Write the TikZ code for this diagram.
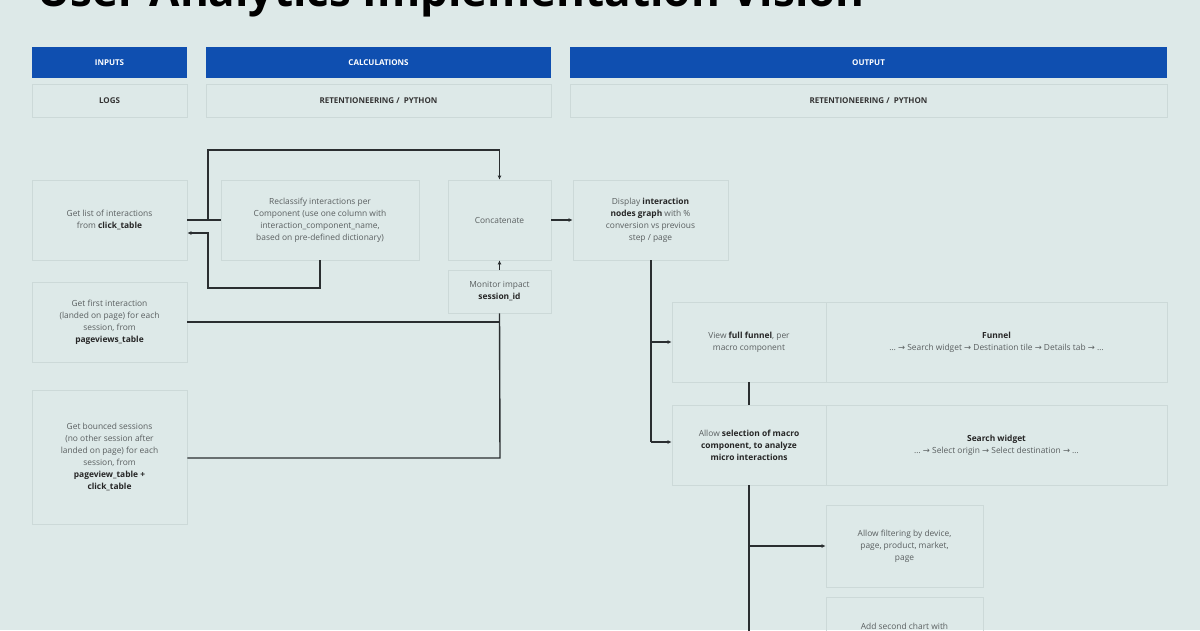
\documentclass[tikz,border=0pt]{standalone}
\usepackage{fontspec}
\setmainfont{Open Sans}
\newfontfamily\symfont{DejaVu Sans}
\newcommand{\ra}{{\symfont →}}
\usetikzlibrary{arrows.meta,positioning,calc}
\definecolor{bgcol}{HTML}{DDE9E8}
\definecolor{hdrblue}{HTML}{0F4FB0}
\definecolor{boxline}{HTML}{CCD9D8}
\definecolor{txtgrey}{HTML}{5A5F60}
\definecolor{linecol}{HTML}{2A2E30}

\begin{document}
\begin{tikzpicture}[x=1pt, y=-1pt, every node/.style={font=\fontsize{8.4}{12}\selectfont, text=txtgrey},
  hdr/.style={fill=hdrblue, draw=none, text=white, font=\fontsize{8}{10}\selectfont\bfseries},
  sub/.style={draw=boxline, line width=0.8pt, text=black!80, font=\fontsize{8}{10}\selectfont\bfseries},
  card/.style={draw=boxline, line width=0.8pt, align=center, inner sep=0pt},
  link/.style={draw=linecol, line width=1.4pt},
  arr/.style={link, -{Latex[length=4pt,width=4pt]}}]
  \clip (0,0) rectangle (1200,630);
  \fill[bgcol] (0,0) rectangle (1200,630);
  \useasboundingbox (0,0) rectangle (1200,630);

  % title, cut by the top edge
  \node[anchor=base west, inner sep=0pt, text=black, font=\fontsize{44}{48}\selectfont\bfseries] (title) at (37,6) {User Analytics Implementation Vision};

  % column headers
  \node[hdr, minimum width=155pt, minimum height=31pt] (hin) at (109.5,62.5) {INPUTS};
  \node[hdr, minimum width=345pt, minimum height=31pt] (hcalc) at (378.5,62.5) {CALCULATIONS};
  \node[hdr, minimum width=597pt, minimum height=31pt] (hout) at (868.5,62.5) {OUTPUT};
  \node[sub, minimum width=155pt, minimum height=33pt] (sin) at (109.5,100.5) {LOGS};
  \node[sub, minimum width=345pt, minimum height=33pt] (scalc) at (378.5,100.5) {RETENTIONEERING /\ \ PYTHON};
  \node[sub, minimum width=597pt, minimum height=33pt] (sout) at (868.5,100.5) {RETENTIONEERING /\ \ PYTHON};

  % inputs
  \node[card, minimum width=155pt, minimum height=80pt] (clicks) at (109.5,220) {Get list of interactions\\from \textbf{\color{black!85}click\_table}};
  \node[card, minimum width=155pt, minimum height=80pt] (first) at (109.5,322) {Get first interaction\\(landed on page) for each\\session, from\\\textbf{\color{black!85}pageviews\_table}};
  \node[card, minimum width=155pt, minimum height=134pt] (bounced) at (109.5,457) {Get bounced sessions\\(no other session after\\landed on page) for each\\session, from\\\textbf{\color{black!85}pageview\_table +}\\\textbf{\color{black!85}click\_table}};

  % calculations
  \node[card, minimum width=198pt, minimum height=80pt] (reclass) at (320,220) {Reclassify interactions per\\Component (use one column with\\interaction\_component\_name,\\based on pre-defined dictionary)};
  \node[card, minimum width=103pt, minimum height=80pt] (concat) at (499.5,220) {Concatenate};
  \node[card, minimum width=103pt, minimum height=43pt] (monitor) at (499.5,291.5) {Monitor impact\\\textbf{\color{black!85}session\_id}};

  % output
  \node[card, minimum width=155pt, minimum height=80pt] (display) at (650.5,220) {Display \textbf{\color{black!85}interaction}\\\textbf{\color{black!85}nodes graph} with \%\\conversion vs previous\\step / page};
  \node[card, minimum width=154pt, minimum height=80pt] (funnel) at (749,342) {View \textbf{\color{black!85}full funnel}, per\\macro component};
  \node[card, minimum width=341pt, minimum height=80pt] (funneldesc) at (996.5,342) {\textbf{\color{black!85}Funnel}\\\dots\ \ra\ Search widget \ra\ Destination tile \ra\ Details tab \ra\ \dots};
  \node[card, minimum width=154pt, minimum height=80pt] (select) at (749,445) {Allow \textbf{\color{black!85}selection of macro}\\\textbf{\color{black!85}component, to analyze}\\\textbf{\color{black!85}micro interactions}};
  \node[card, minimum width=341pt, minimum height=80pt] (searchdesc) at (996.5,445) {\textbf{\color{black!85}Search widget}\\\dots\ \ra\ Select origin \ra\ Select destination \ra\ \dots};
  \node[card, minimum width=157pt, minimum height=82pt] (filter) at (904.5,546) {Allow filtering by device,\\page, product, market,\\page};
  \node[card, minimum width=157pt, minimum height=82pt, anchor=north] (second) at (904.5,597) {Add second chart with\\\phantom{x}\\\phantom{x}};

  % calculation links
  \coordinate (split) at (208,220);
  \coordinate (back) at (208,233);
  \draw[link] (clicks.east) -- (reclass.west);
  \draw[arr] (split) |- (208,150) -| (concat.north);
  \draw[arr] (reclass.south) |- (208,288) |- (back -| clicks.east);
  \draw[arr] (monitor.north) -- (concat.south);
  \coordinate (join) at (500,458);
  \draw[link] (monitor.south) -- (join) -- (bounced.east |- join);
  \draw[link] (first.east) -- (500,322);
  \draw[arr] (concat.east) -- (display.west);

  % output links
  \coordinate (trunk) at (651,442);
  \draw[link] (display.south -| trunk) -- (trunk);
  \draw[arr] (651,342) -- (funnel.west);
  \draw[arr] (651,442) -- (select.west |- trunk);
  \draw[link] (funnel.south) -- (select.north);
  \draw[link] (select.south) -- (749,640);
  \draw[arr] (749,546) -- (filter.west);
\end{tikzpicture}
\end{document}
